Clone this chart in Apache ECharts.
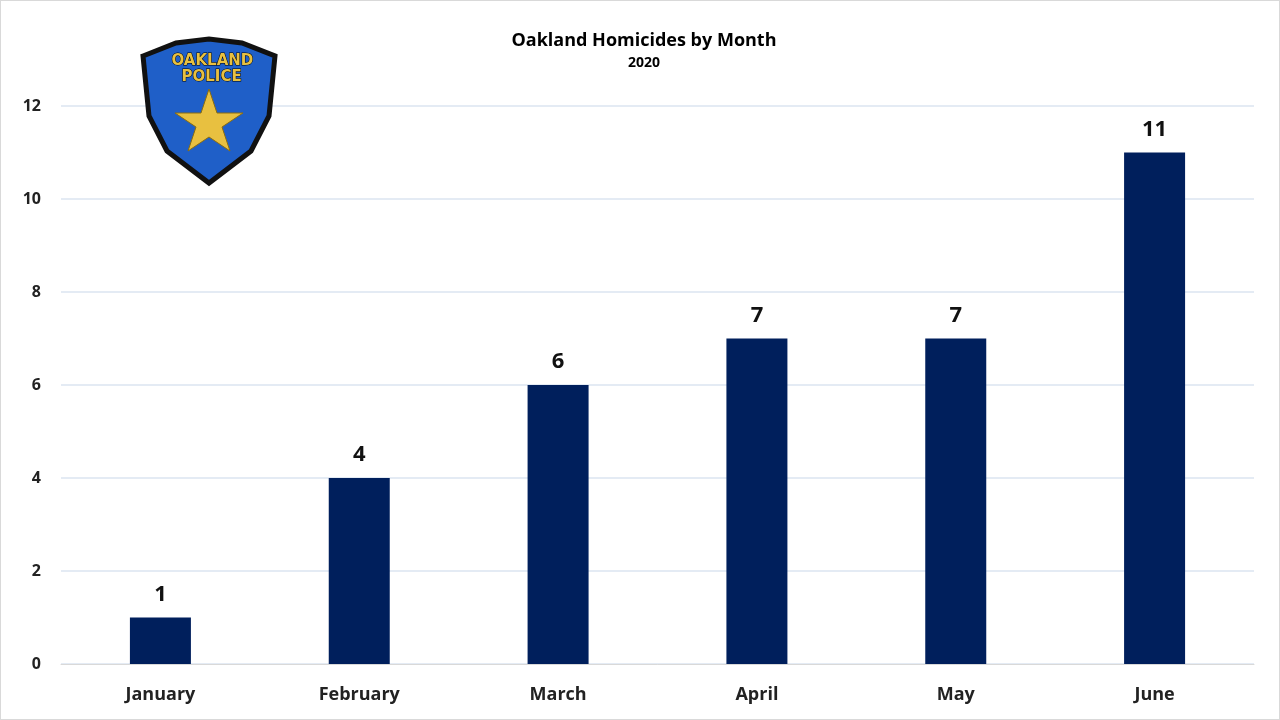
<!DOCTYPE html>
<html><head><meta charset="utf-8">
<script src="https://cdn.jsdelivr.net/npm/echarts@6/dist/echarts.min.js"></script>
<style>html,body{margin:0;padding:0;background:#fff}#c{width:1280px;height:720px;box-sizing:border-box;border:1px solid #d9d9d9}</style>
</head><body><div id="c"></div>
<script>
const categories = ["January","February","March","April","May","June"];
const values = [1,4,6,7,7,11];
const chart = echarts.init(document.getElementById('c'));
chart.setOption({
  animation:false,
  title:{text:"Oakland Homicides by Month",subtext:"2020",left:638,top:26,textAlign:'center',itemGap:6,
    textStyle:{fontFamily:"Open Sans",fontWeight:'bold',fontSize:18,color:'#000'},
    subtextStyle:{fontFamily:"Open Sans",fontWeight:'bold',fontSize:14,color:'#000'}},
  grid:{left:60,right:25,top:105,bottom:55},
  xAxis:{type:'category',data:categories,
    axisLine:{lineStyle:{color:'#d9d9d9'}},axisTick:{show:false},
    axisLabel:{fontFamily:"Open Sans",fontWeight:'bold',fontSize:18,color:'#222',margin:22}},
  yAxis:{type:'value',min:0,max:12,interval:2,axisLine:{show:false},axisTick:{show:false},
    splitLine:{lineStyle:{color:'#dbe5f1',width:1.5}},
    axisLabel:{fontFamily:"Open Sans",fontWeight:'bold',fontSize:16,color:'#222',margin:20}},
  series:[{type:'bar',data:values,barWidth:61,itemStyle:{color:'#001f5c'},
    label:{show:true,position:'top',distance:12,fontFamily:"Open Sans",fontWeight:'bold',fontSize:22,color:'#111'}}],
  graphic:[
    {type:'polygon',z:100,shape:{points:[[142,55],[175,42],[208,38],[241,42],[274,55],[268,115],[250,150],[208,182],[166,150],[148,115]]},
     style:{fill:'#1f5fc8',stroke:'#111',lineWidth:5}},
    {type:'text',z:101,left:170,top:52,style:{text:'OAKLAND',fontSize:15,fontWeight:'bold',fill:'#e8c040',stroke:'#000',lineWidth:1,fontFamily:'DejaVu Sans'}},
    {type:'text',z:101,left:180,top:68,style:{text:'POLICE',fontSize:15,fontWeight:'bold',fill:'#e8c040',stroke:'#000',lineWidth:1,fontFamily:'DejaVu Sans'}},
    {type:'polygon',z:101,shape:{points:[[208,88],[216,112],[242,112],[221,126],[229,150],[208,136],[187,150],[195,126],[174,112],[200,112]]},
     style:{fill:'#e8c040',stroke:'#8a6d10',lineWidth:1}}
  ]
});
</script></body></html>
